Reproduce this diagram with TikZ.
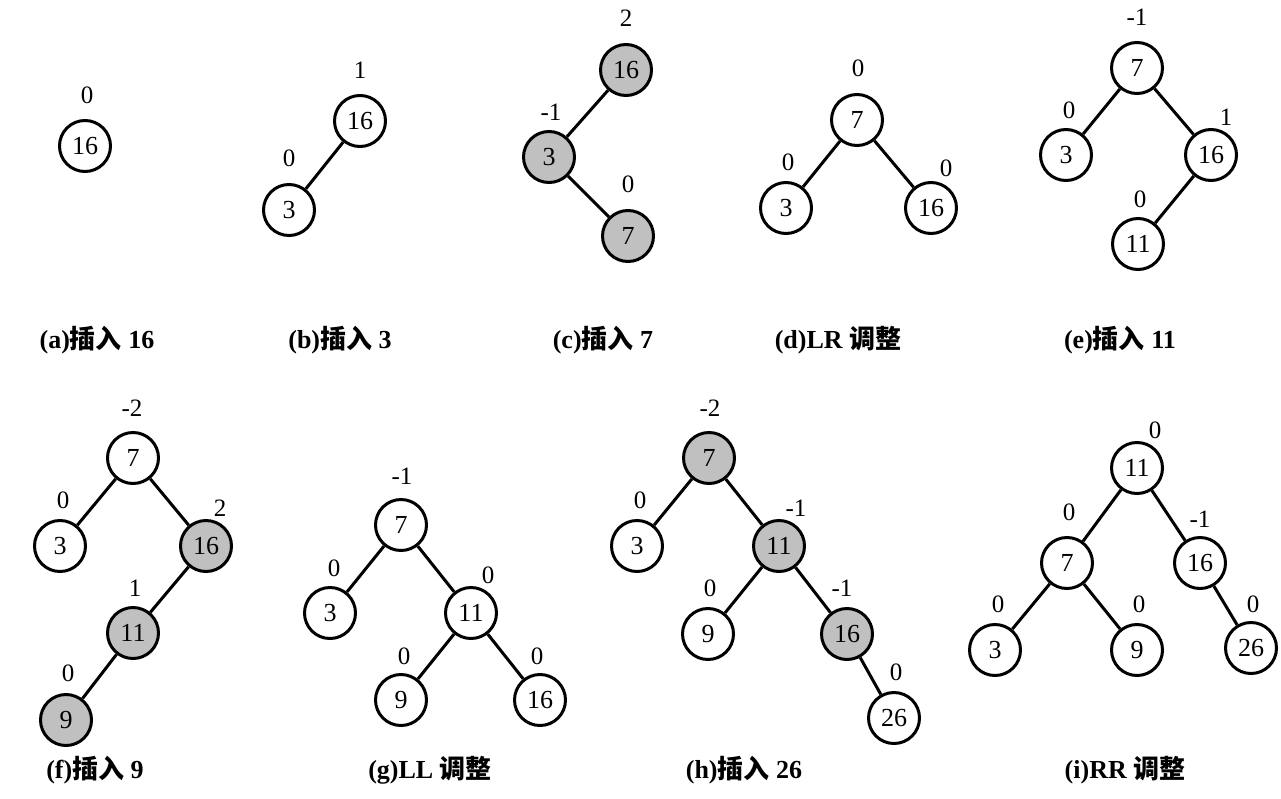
\documentclass[tikz,border=0pt]{standalone}
\usepackage{fontspec}
\setmainfont{Liberation Serif}
\newfontfamily\cjk{Noto Sans CJK SC}
\definecolor{gr}{RGB}{192,192,192}
\begin{document}
\begin{tikzpicture}[x=1pt,y=-1pt,
 nd/.style={circle,draw,line width=3pt,minimum size=51pt,inner sep=0pt,font=\fontsize{26}{26}\selectfont,fill=white},
 gn/.style={nd,fill=gr},
 lb/.style={font=\fontsize{25}{25}\selectfont},
 captxt/.style={font=\fontsize{26}{26}\selectfont\bfseries},
 ed/.style={line width=3pt}]
\useasboundingbox (0,0) rectangle (1281,798);
% (a)
\node[nd] (a16) at (85,146) {16};
\node[lb] (la16) at (87,95) {0};
\node[captxt] (ca) at (97,340) {(a){\cjk 插入} 16};
% (b)
\node[nd] (b16) at (360,121) {16};
\node[nd] (b3) at (289,210) {3};
\draw[ed] (b16)--(b3);
\node[lb] (lb16) at (360,70) {1};
\node[lb] (lb3) at (289,158) {0};
\node[captxt] (cb) at (340,340) {(b){\cjk 插入} 3};
% (c)
\node[gn] (c16) at (626,70) {16};
\node[gn] (c3) at (549,157) {3};
\node[gn] (c7) at (628,236) {7};
\draw[ed] (c16)--(c3) (c3)--(c7);
\node[lb] (lc16) at (626,18) {2};
\node[lb] (lc3) at (551,112) {-1};
\node[lb] (lc7) at (628,184) {0};
\node[captxt] (cc) at (603,340) {(c){\cjk 插入} 7};
% (d)
\node[nd] (d7) at (857,120) {7};
\node[nd] (d3) at (786,208) {3};
\node[nd] (d16) at (931,208) {16};
\draw[ed] (d7)--(d3) (d7)--(d16);
\node[lb] (ld7) at (858,68) {0};
\node[lb] (ld3) at (788,162) {0};
\node[lb] (ld16) at (946,168) {0};
\node[captxt] (cd) at (838,340) {(d)LR {\cjk 调整}};
% (e)
\node[nd] (e7) at (1137,68) {7};
\node[nd] (e3) at (1066,155) {3};
\node[nd] (e16) at (1211,155) {16};
\node[nd] (e11) at (1138,244) {11};
\draw[ed] (e7)--(e3) (e7)--(e16) (e16)--(e11);
\node[lb] (le7) at (1137,17) {-1};
\node[lb] (le3) at (1069,110) {0};
\node[lb] (le16) at (1226,117) {1};
\node[lb] (le11) at (1140,199) {0};
\node[captxt] (ce) at (1120,340) {(e){\cjk 插入} 11};
% (f)
\node[nd] (f7) at (133,458) {7};
\node[nd] (f3) at (60,546) {3};
\node[gn] (f16) at (206,546) {16};
\node[gn] (f11) at (133,633) {11};
\node[gn] (f9) at (66,720) {9};
\draw[ed] (f7)--(f3) (f7)--(f16) (f16)--(f11) (f11)--(f9);
\node[lb] (lf7) at (132,408) {-2};
\node[lb] (lf3) at (63,500) {0};
\node[lb] (lf16) at (220,508) {2};
\node[lb] (lf11) at (135,588) {1};
\node[lb] (lf9) at (68,673) {0};
\node[captxt] (cf) at (95,770) {(f){\cjk 插入} 9};
% (g)
\node[nd] (g7) at (401,525) {7};
\node[nd] (g3) at (330,613) {3};
\node[nd] (g11) at (471,613) {11};
\node[nd] (g9) at (401,700) {9};
\node[nd] (g16) at (540,700) {16};
\draw[ed] (g7)--(g3) (g7)--(g11) (g11)--(g9) (g11)--(g16);
\node[lb] (lg7) at (402,476) {-1};
\node[lb] (lg3) at (334,568) {0};
\node[lb] (lg11) at (488,575) {0};
\node[lb] (lg9) at (404,656) {0};
\node[lb] (lg16) at (537,656) {0};
\node[captxt] (cg) at (430,770) {(g)LL {\cjk 调整}};
% (h)
\node[gn] (h7) at (709,458) {7};
\node[nd] (h3) at (637,546) {3};
\node[gn] (h11) at (779,546) {11};
\node[nd] (h9) at (708,634) {9};
\node[gn] (h16) at (847,634) {16};
\node[nd] (h26) at (894,718) {26};
\draw[ed] (h7)--(h3) (h7)--(h11) (h11)--(h9) (h11)--(h16) (h16)--(h26);
\node[lb] (lh7) at (710,408) {-2};
\node[lb] (lh3) at (640,500) {0};
\node[lb] (lh11) at (796,508) {-1};
\node[lb] (lh9) at (710,588) {0};
\node[lb] (lh16) at (842,588) {-1};
\node[lb] (lh26) at (896,672) {0};
\node[captxt] (ch) at (744,770) {(h){\cjk 插入} 26};
% (i)
\node[nd] (i11) at (1137,468) {11};
\node[nd] (i7) at (1067,563) {7};
\node[nd] (i16) at (1200,563) {16};
\node[nd] (i3) at (995,650) {3};
\node[nd] (i9) at (1137,650) {9};
\node[nd] (i26) at (1251,648) {26};
\draw[ed] (i11)--(i7) (i11)--(i16) (i7)--(i3) (i7)--(i9) (i16)--(i26);
\node[lb] (li11) at (1155,430) {0};
\node[lb] (li7) at (1069,512) {0};
\node[lb] (li16) at (1200,519) {-1};
\node[lb] (li3) at (998,604) {0};
\node[lb] (li9) at (1139,604) {0};
\node[lb] (li26) at (1253,604) {0};
\node[captxt] (ci) at (1125,770) {(i)RR {\cjk 调整}};
\end{tikzpicture}
\end{document}
